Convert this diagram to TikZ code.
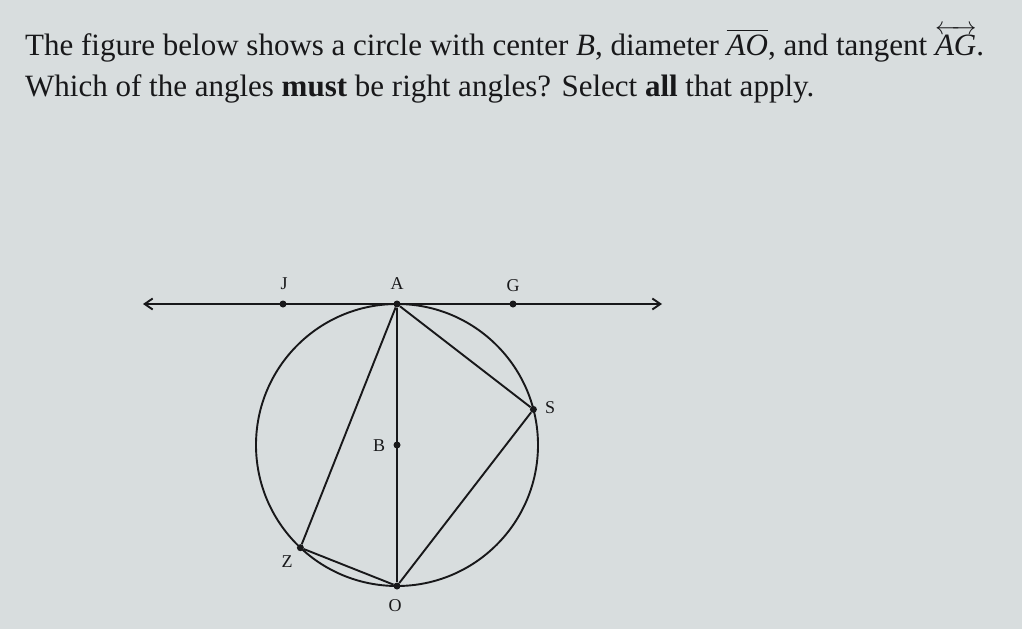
\documentclass[tikz,border=0pt]{standalone}
\usepackage{amsmath}
\usepackage{fontspec}
\setmainfont{Liberation Serif}
\usetikzlibrary{arrows.meta}
\definecolor{ink}{RGB}{24,24,26}
\definecolor{paper}{RGB}{216,221,222}
\tikzset{
  dot/.style={circle,fill=ink,inner sep=0pt,minimum size=7pt},
  ptlabel/.style={font=\fontsize{18}{18}\selectfont,text=ink,inner sep=0pt},
  qtext/.style={font=\fontsize{31}{31}\selectfont,text=ink,anchor=base west,inner sep=0pt},
  fig/.style={draw=ink,line width=1.9pt}
}
\begin{document}
\begin{tikzpicture}[x=1pt,y=1pt,yscale=-1]
%background and frame of the page
\fill[paper] (0,0) rectangle (1022,629);
\useasboundingbox (0,0) rectangle (1022,629);

%Text: question
\node[qtext] (line1) at (25,55) {The figure below shows a circle with center \textit{B}, diameter $\overline{\textit{AO}}$, and tangent $\overleftrightarrow{\textit{AG}}$.};
\node[qtext] (line2) at (25,96) {Which of the angles \textbf{must} be right angles? Select \textbf{all} that apply.};

%Points
\coordinate (Bc) at (397,445);
\node[dot] (A) at (397,304) {};
\node[dot] (O) at (397,586) {};
\node[dot] (B) at (397,445) {};
\node[dot] (J) at (283,304) {};
\node[dot] (G) at (513,304) {};
\node[dot] (S) at (533.4,409.4) {};
\node[dot] (Z) at (300.4,547.7) {};
\coordinate (left) at (143,304);
\coordinate (right) at (662,304);

%Shape: Circle
\draw[fig] (Bc) circle [radius=141];
%tangent line
\draw[fig,{Straight Barb[length=8pt,width=11pt]}-{Straight Barb[length=8pt,width=11pt]}] (left) -- (right);
%chords and diameter
\draw[fig] (A) -- (O);
\draw[fig] (A) -- (S) -- (O);
\draw[fig] (A) -- (Z) -- (O);

%Labels
\node[ptlabel] (lJ) at (284,284) {J};
\node[ptlabel] (lA) at (397,284) {A};
\node[ptlabel] (lG) at (513,286) {G};
\node[ptlabel] (lS) at (550,408) {S};
\node[ptlabel] (lB) at (379,446) {B};
\node[ptlabel] (lZ) at (287,562) {Z};
\node[ptlabel] (lO) at (395,606) {O};
\end{tikzpicture}
\end{document}
